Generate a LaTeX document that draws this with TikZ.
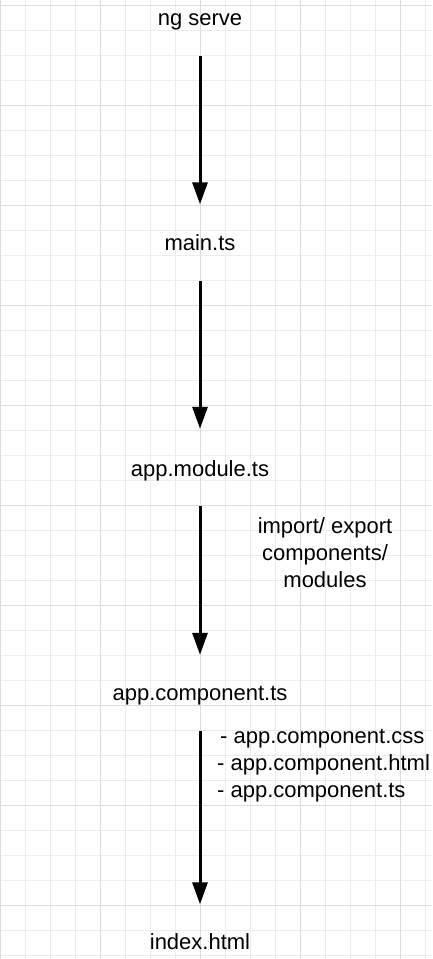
\documentclass[tikz,border=0pt]{standalone}
\usepackage{fontspec}
\setmainfont{Liberation Sans}
\usetikzlibrary{arrows.meta}
\definecolor{gridminor}{HTML}{ECECEC}
\definecolor{gridmajor}{HTML}{DCDCDC}
\begin{document}
\begin{tikzpicture}[x=1pt,y=-1pt,
  lbl/.style={font=\fontsize{22}{26.4}\selectfont, inner sep=0pt, text height=16pt, text depth=5pt, anchor=base},
  note/.style={font=\fontsize{22}{26.7}\selectfont, inner sep=0pt},
  flow/.style={line width=3pt, -{Triangle[length=22pt,width=15pt]}},
  minorline/.style={draw=gridminor, line width=1pt},
  majorline/.style={draw=gridmajor, line width=1pt}]
\fill[white] (0,0) rectangle (432,959);
\useasboundingbox (0,0) rectangle (432,959);
% grid
\foreach \x in {25,50,75,125,150,175,225,250,275,325,350,375,425}
  \draw[minorline] (\x,0) -- (\x,959);
\foreach \k in {0,...,38}
  \draw[minorline] (0,5+25*\k) -- (432,5+25*\k);
\foreach \x in {0.5,100,200,300,400}
  \draw[majorline] (\x,0) -- (\x,959);
\foreach \k in {0,...,9}
  \draw[majorline] (0,5+100*\k) -- (432,5+100*\k);
% nodes
\node[lbl] (ng) at (200,25) {ng serve};
\node[lbl] (main) at (200,250) {main.ts};
\node[lbl] (module) at (200,476) {app.module.ts};
\node[lbl] (comp) at (200,700.5) {app.component.ts};
\node[lbl] (index) at (200,949) {index.html};
\node[note, align=center, anchor=base] (imp) at (325,587) {import/ export\\components/\\modules};
\node[note, align=left, anchor=base west] (files) at (217,797) {\hspace*{3pt}- app.component.css\\- app.component.html\\- app.component.ts};
% connectors
\draw[flow, shorten <=26pt, shorten >=29.5pt] (ng) -- (main);
\draw[flow, shorten <=26pt, shorten >=31pt] (main) -- (module);
\draw[flow, shorten <=25pt, shorten >=29.5pt] (module) -- (comp);
\draw[flow, shorten <=25pt, shorten >=28.5pt] (comp) -- (index);
\end{tikzpicture}
\end{document}
